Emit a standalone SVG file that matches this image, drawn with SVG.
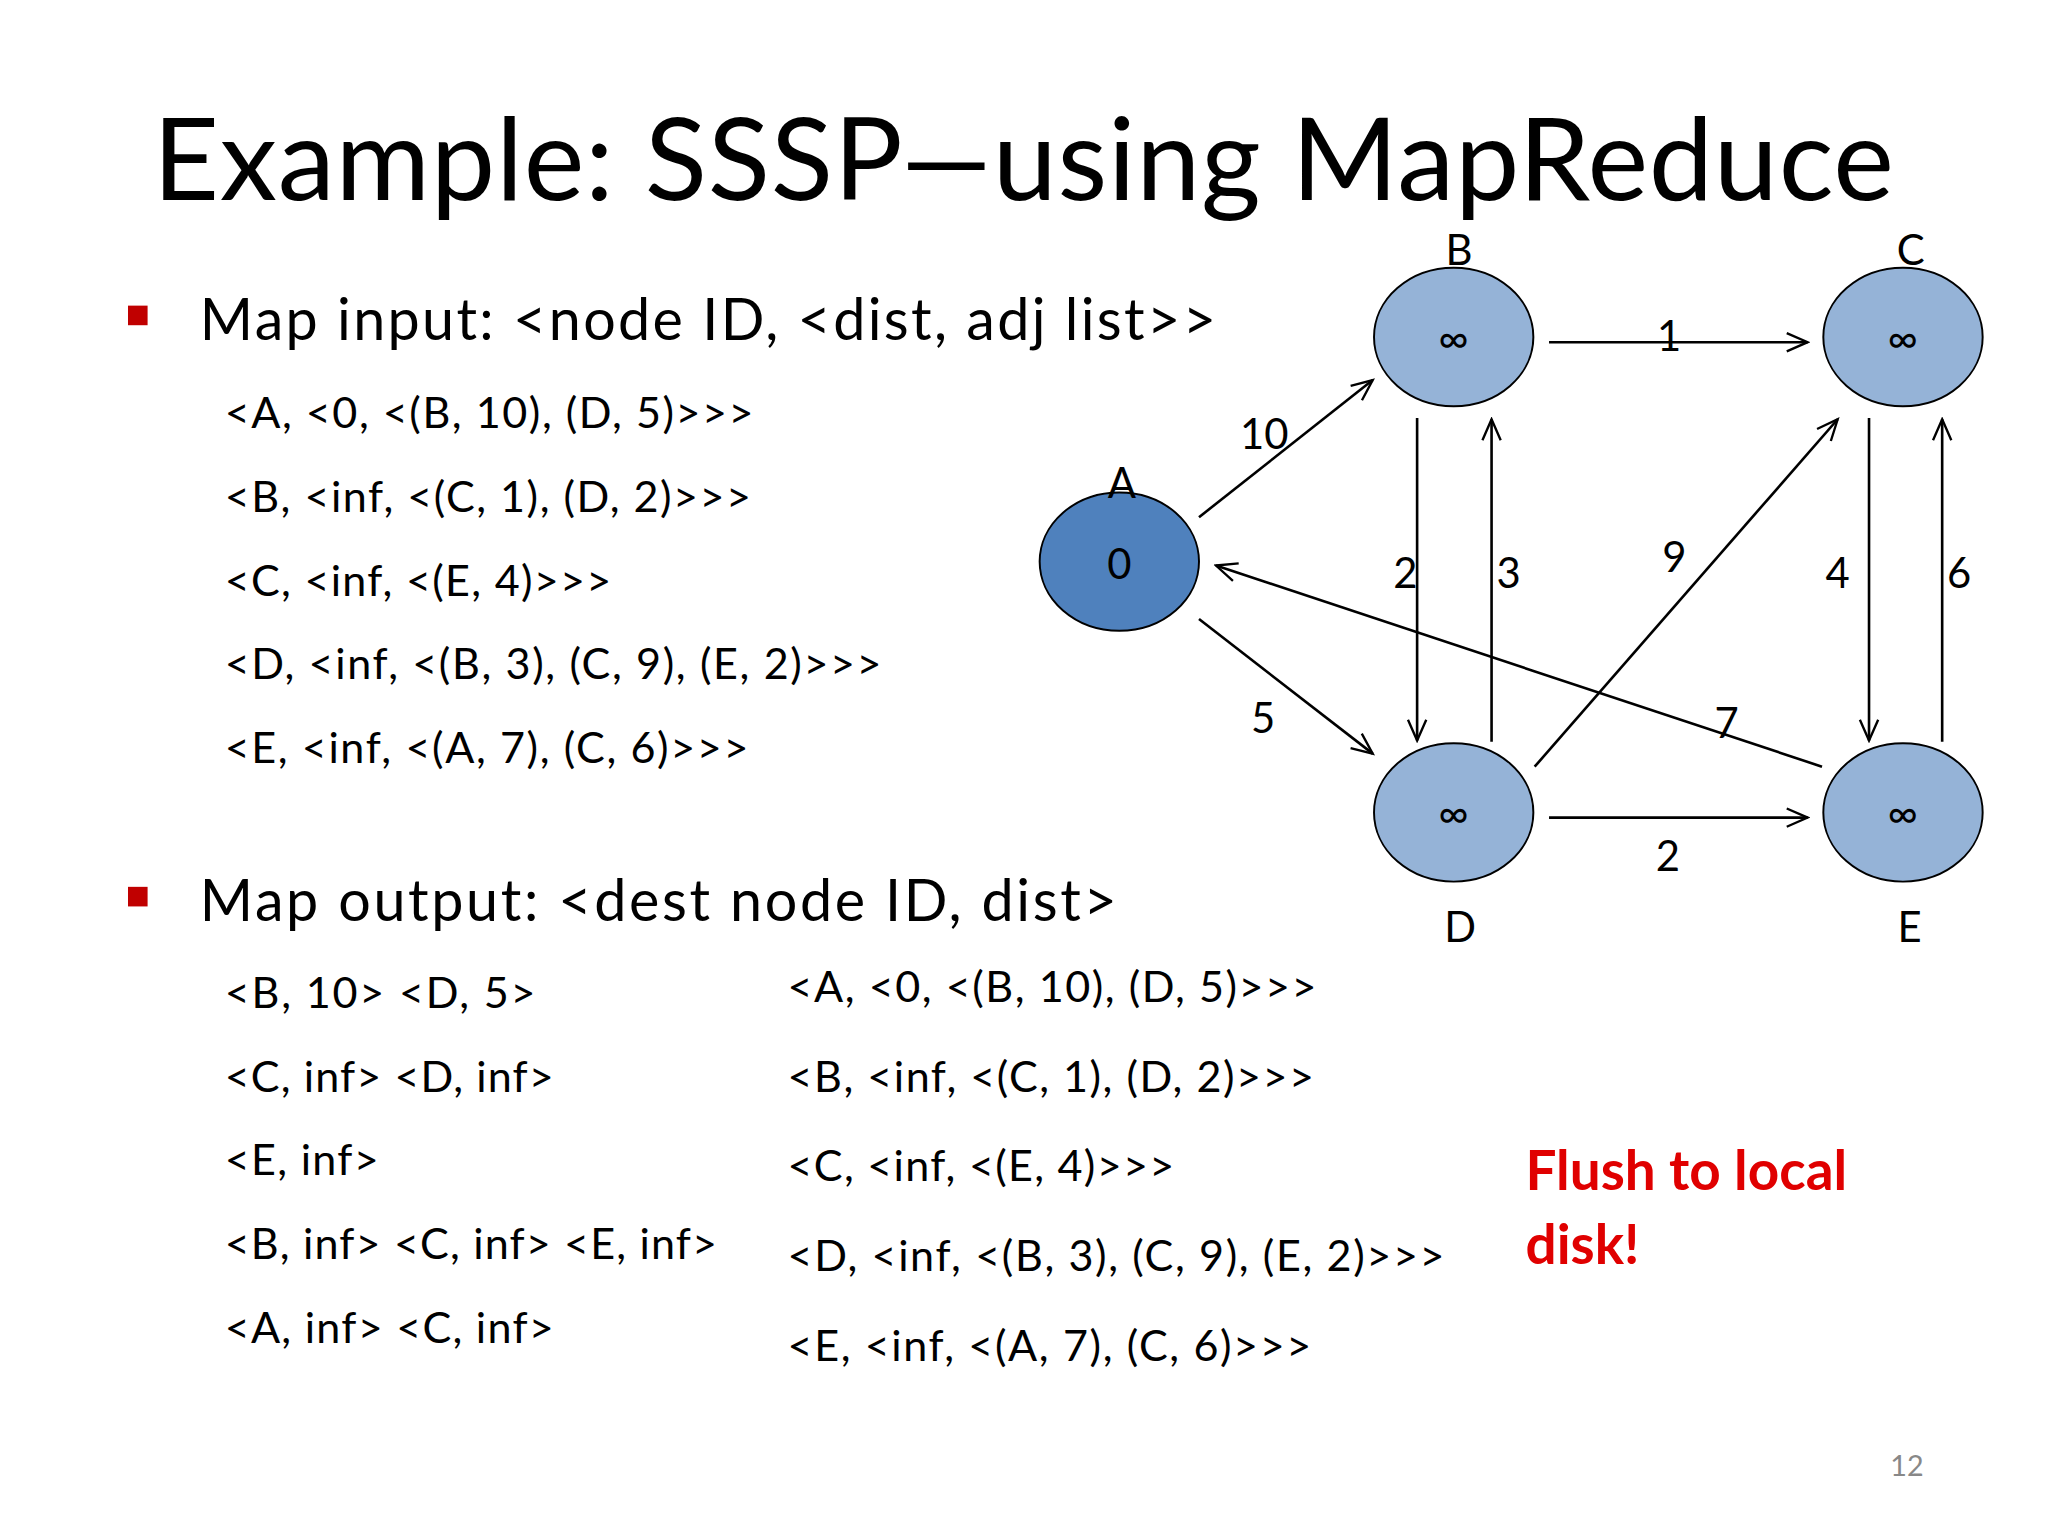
<svg xmlns="http://www.w3.org/2000/svg" width="2048" height="1536" viewBox="0 0 2048 1536">
<style>
text{font-family:Lato,"Open Sans","Liberation Sans",sans-serif;fill:#000}
.t{font-size:88px}.b{font-size:44px}.s{font-size:33px}.l{font-size:32px;text-anchor:middle}
.e{stroke:#000;stroke-width:2;fill:none;marker-end:url(#ar)}
.n{stroke:#000;stroke-width:1.5}
.r{fill:#e00000;font-size:42px;font-weight:bold}
</style>
<defs><marker id="ar" viewBox="0 0 20 20" refX="18" refY="10" markerWidth="20" markerHeight="20" markerUnits="userSpaceOnUse" orient="auto"><polyline points="2,3 18,10 2,17" fill="none" stroke="#000" stroke-width="1.8"/></marker></defs>
<rect width="2048" height="1536" fill="#fff"/>
<g transform="scale(1.3061)">
<text class="t" x="117" y="153" textLength="1333">Example: SSSP—using MapReduce</text>
<rect x="98" y="234" width="15" height="15" fill="#c00000"/>
<rect x="98" y="679" width="15" height="15" fill="#c00000"/>
<text class="b" x="153" y="260" textLength="778">Map input: &lt;node ID, &lt;dist, adj list&gt;&gt;</text>
<text class="b" x="153" y="705" textLength="702">Map output: &lt;dest node ID, dist&gt;</text>
<g class="s">
<text x="172" y="328" class="s" textLength="405">&lt;A, &lt;0, &lt;(B, 10), (D, 5)&gt;&gt;&gt;</text>
<text x="172" y="392" class="s" textLength="403">&lt;B, &lt;inf, &lt;(C, 1), (D, 2)&gt;&gt;&gt;</text>
<text x="172" y="456" class="s" textLength="296">&lt;C, &lt;inf, &lt;(E, 4)&gt;&gt;&gt;</text>
<text x="172" y="520" class="s" textLength="503">&lt;D, &lt;inf, &lt;(B, 3), (C, 9), (E, 2)&gt;&gt;&gt;</text>
<text x="172" y="584" class="s" textLength="401">&lt;E, &lt;inf, &lt;(A, 7), (C, 6)&gt;&gt;&gt;</text>
<text x="172" y="772" class="s" textLength="238">&lt;B, 10&gt;  &lt;D, 5&gt;</text>
<text x="172" y="836" class="s" textLength="252">&lt;C, inf&gt; &lt;D, inf&gt;</text>
<text x="172" y="900" class="s" textLength="118">&lt;E, inf&gt;</text>
<text x="172" y="964" class="s" textLength="377">&lt;B, inf&gt; &lt;C, inf&gt; &lt;E, inf&gt;</text>
<text x="172" y="1028" class="s" textLength="252">&lt;A, inf&gt; &lt;C, inf&gt;</text>
<text x="603" y="767" class="s" textLength="405">&lt;A, &lt;0, &lt;(B, 10), (D, 5)&gt;&gt;&gt;</text>
<text x="603" y="836" class="s" textLength="403">&lt;B, &lt;inf, &lt;(C, 1), (D, 2)&gt;&gt;&gt;</text>
<text x="603" y="904" class="s" textLength="296">&lt;C, &lt;inf, &lt;(E, 4)&gt;&gt;&gt;</text>
<text x="603" y="973" class="s" textLength="503">&lt;D, &lt;inf, &lt;(B, 3), (C, 9), (E, 2)&gt;&gt;&gt;</text>
<text x="603" y="1042" class="s" textLength="401">&lt;E, &lt;inf, &lt;(A, 7), (C, 6)&gt;&gt;&gt;</text>
</g>
<text class="r" x="1168" y="911">Flush to local</text>
<text class="r" x="1168" y="968">disk!</text>
<text x="1460" y="1130" style="font-size:22px;fill:#888;text-anchor:middle">12</text>
<g id="connectors">
<line class="e" x1="918" y1="396" x2="1051" y2="291"/>
<line class="e" x1="1186" y1="262" x2="1384" y2="262"/>
<line class="e" x1="1085" y1="320" x2="1085" y2="567"/>
<line class="e" x1="1142" y1="568" x2="1142" y2="321"/>
<line class="e" x1="918" y1="474" x2="1051" y2="577"/>
<line class="e" x1="1175" y1="587" x2="1407" y2="321"/>
<line class="e" x1="1431" y1="320" x2="1431" y2="567"/>
<line class="e" x1="1487" y1="568" x2="1487" y2="321"/>
<line class="e" x1="1395" y1="587" x2="931" y2="433"/>
<line class="e" x1="1186" y1="626" x2="1384" y2="626"/>
<text class="l" x="968" y="344">10</text>
<text class="l" x="1278" y="269">1</text>
<text class="l" x="1076" y="450">2</text>
<text class="l" x="1155" y="450">3</text>
<text class="l" x="967" y="561">5</text>
<text class="l" x="1282" y="438">9</text>
<text class="l" x="1407" y="450">4</text>
<text class="l" x="1500" y="450">6</text>
<text class="l" x="1322" y="565">7</text>
<text class="l" x="1277" y="667">2</text>
</g>
<g id="A"><ellipse class="n" cx="857" cy="430" rx="61" ry="53" fill="#4f81bd"/><text class="l" x="857" y="443">0</text><text class="l" x="859" y="381">A</text></g>
<g id="B"><ellipse class="n" cx="1113" cy="258" rx="61" ry="53" fill="#95b3d7"/><text class="l" x="1113" y="270">∞</text><text class="l" x="1117" y="203">B</text></g>
<g id="C"><ellipse class="n" cx="1457" cy="258" rx="61" ry="53" fill="#95b3d7"/><text class="l" x="1457" y="270">∞</text><text class="l" x="1463" y="203">C</text></g>
<g id="D"><ellipse class="n" cx="1113" cy="622" rx="61" ry="53" fill="#95b3d7"/><text class="l" x="1113" y="634">∞</text><text class="l" x="1118" y="721">D</text></g>
<g id="E"><ellipse class="n" cx="1457" cy="622" rx="61" ry="53" fill="#95b3d7"/><text class="l" x="1457" y="634">∞</text><text class="l" x="1462" y="721">E</text></g>
</g>
</svg>
